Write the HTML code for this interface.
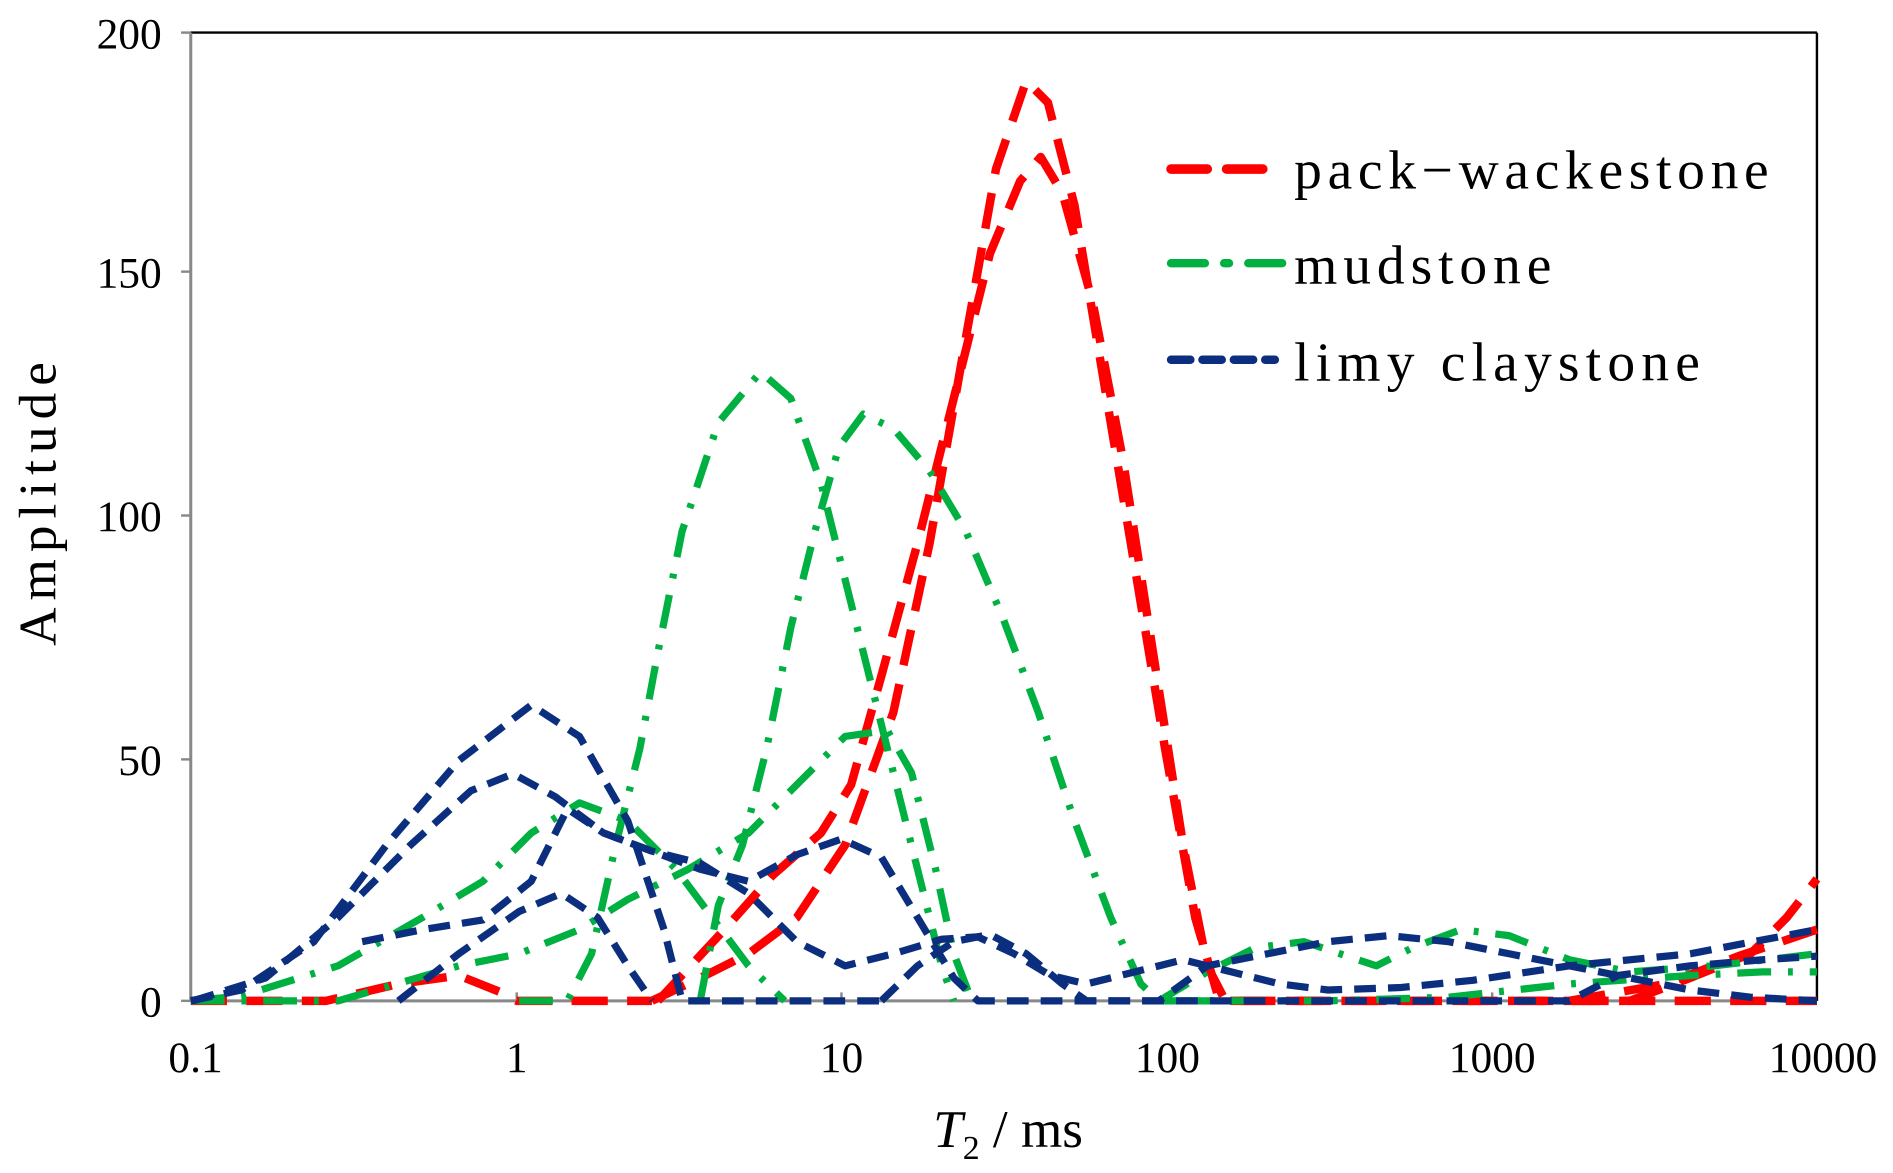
<!DOCTYPE html>
<html><head><style>
html,body{margin:0;padding:0;background:#fff;}
svg{display:block;}
text{font-family:"Liberation Serif",serif;fill:#000;}
</style></head><body>
<svg width="1893" height="1173" viewBox="0 0 1568 971.6" preserveAspectRatio="none">
<rect x="0" y="0" width="1568" height="972" fill="#fff"/>
<line x1="158" y1="27" x2="1505" y2="27" stroke="#000" stroke-width="2"/>
<line x1="1505" y1="27" x2="1505" y2="829" stroke="#000" stroke-width="2"/>
<line x1="158" y1="27" x2="158" y2="829" stroke="#888" stroke-width="2.5"/>
<line x1="158" y1="829" x2="1505" y2="829" stroke="#888" stroke-width="2.5"/>
<g stroke="#888" stroke-width="2">
<line x1="150" y1="27" x2="158" y2="27"/><line x1="150" y1="225" x2="158" y2="225"/>
<line x1="150" y1="427" x2="158" y2="427"/><line x1="150" y1="629" x2="158" y2="629"/>
<line x1="150" y1="829" x2="158" y2="829"/>
<line x1="428" y1="822" x2="428" y2="829"/><line x1="697" y1="822" x2="697" y2="829"/>
<line x1="967" y1="822" x2="967" y2="829"/><line x1="1236" y1="822" x2="1236" y2="829"/>
</g>
<g font-size="36" text-anchor="end">
<text x="134" y="40">200</text><text x="134" y="238">150</text>
<text x="134" y="440">100</text><text x="134" y="642">50</text>
<text x="134" y="842">0</text>
</g>
<g font-size="36" text-anchor="middle">
<text x="162" y="888">0.1</text><text x="428" y="888">1</text><text x="697" y="888">10</text>
<text x="967" y="888">100</text><text x="1236" y="888">1000</text><text x="1510" y="888">10000</text>
</g>
<text x="835" y="950" font-size="44" text-anchor="middle"><tspan font-style="italic">T</tspan><tspan font-size="28" dy="10">2</tspan><tspan dy="-10"> / ms</tspan></text>
<text transform="translate(46,535) rotate(-90)" font-size="44" textLength="235" lengthAdjust="spacing">Amplitude</text>

<g fill="none" stroke="#ff0000" stroke-width="7" stroke-dasharray="30 16" stroke-linejoin="round">
<polyline points="540,829 580,810 620,790 660,760 700,700 740,590 770,450 800,280 825,140 850,67 868,85 890,170 915,320 940,470 965,620 990,760 1010,829 1505,829"/>
<polyline points="545,829 600,770 640,725 680,690 705,650 730,560 760,450 790,330 820,210 845,150 862,130 880,160 905,250 930,380 955,540 980,700 1000,800 1015,829 1350,829 1400,810 1450,790 1480,760 1505,728"/>
<polyline points="158,829 270,829 330,815 380,808 415,822 428,829 540,829"/>
<polyline points="1300,829 1380,815 1440,792 1505,770"/>
</g>
<g fill="none" stroke="#00b040" stroke-width="6" stroke-dasharray="28 14 4 14" stroke-linejoin="round">
<polyline points="430,829 470,829 490,790 510,700 530,620 545,540 565,440 595,350 630,308 655,330 680,400 700,480 720,560 740,640 760,720 780,800 790,829"/>
<polyline points="580,829 595,750 615,700 635,620 655,520 675,440 695,370 715,343 740,355 770,390 800,440 830,510 860,590 890,680 920,760 945,815 960,829 1010,829"/>
<polyline points="158,829 280,829 380,800 430,790 480,770 520,745 570,720 620,690 660,650 700,610 735,605 755,640 775,720 790,790 805,829"/>
<polyline points="158,829 200,825 280,800 350,760 400,730 440,690 480,665 520,680 560,720 590,760 620,800 650,829"/>
<polyline points="960,829 1000,805 1040,785 1080,780 1110,790 1140,800 1170,785 1210,770 1250,775 1300,795 1350,805 1420,800 1505,790"/>
<polyline points="960,829 1100,829 1200,826 1300,815 1400,808 1460,805 1505,805"/>
</g>
<g fill="none" stroke="#0b2f7e" stroke-width="6" stroke-dasharray="18 10" stroke-linejoin="round">
<polyline points="158,829 200,820 260,780 320,700 380,630 440,584 480,610 520,680 550,770 565,829 730,829"/>
<polyline points="160,829 220,810 280,760 340,700 390,655 425,641 460,660 500,690 540,705 580,715 620,740 660,780 700,800 740,790 780,778 810,776 840,790 870,808 900,815 940,805 980,795 1020,805 1060,815 1100,820 1160,818 1220,812 1300,800 1400,790 1505,770"/>
<polyline points="300,780 350,770 400,762 440,730 470,670 500,690 540,705 580,720 620,730 660,708 697,695 730,710 760,760 790,810 810,829 960,829 1000,800 1050,790 1100,780 1150,775 1200,780 1250,790 1300,800 1350,810 1400,820 1450,826 1505,829"/>
<polyline points="330,829 380,790 430,755 465,740 495,760 520,800 540,829"/>
<polyline points="730,829 760,800 790,780 820,774 850,790 880,815 900,829 1300,829 1340,808 1400,800 1460,795 1505,792"/>
</g>

<line x1="970" y1="140" x2="1062" y2="140" stroke="#ff0000" stroke-width="8" stroke-dasharray="30 16" stroke-linecap="round"/>
<line x1="970" y1="218" x2="1062" y2="218" stroke="#00b040" stroke-width="7" stroke-dasharray="28 16 4 16" stroke-linecap="round"/>
<line x1="970" y1="298" x2="1056" y2="298" stroke="#0b2f7e" stroke-width="7" stroke-dasharray="16 10" stroke-linecap="round"/>
<g font-size="46">
<text x="1072" y="156" textLength="393" lengthAdjust="spacing">pack−wackestone</text>
<text x="1072" y="235" textLength="213" lengthAdjust="spacing">mudstone</text>
<text x="1072" y="315" textLength="336" lengthAdjust="spacing">limy  claystone</text>
</g>
</svg>
</body></html>
